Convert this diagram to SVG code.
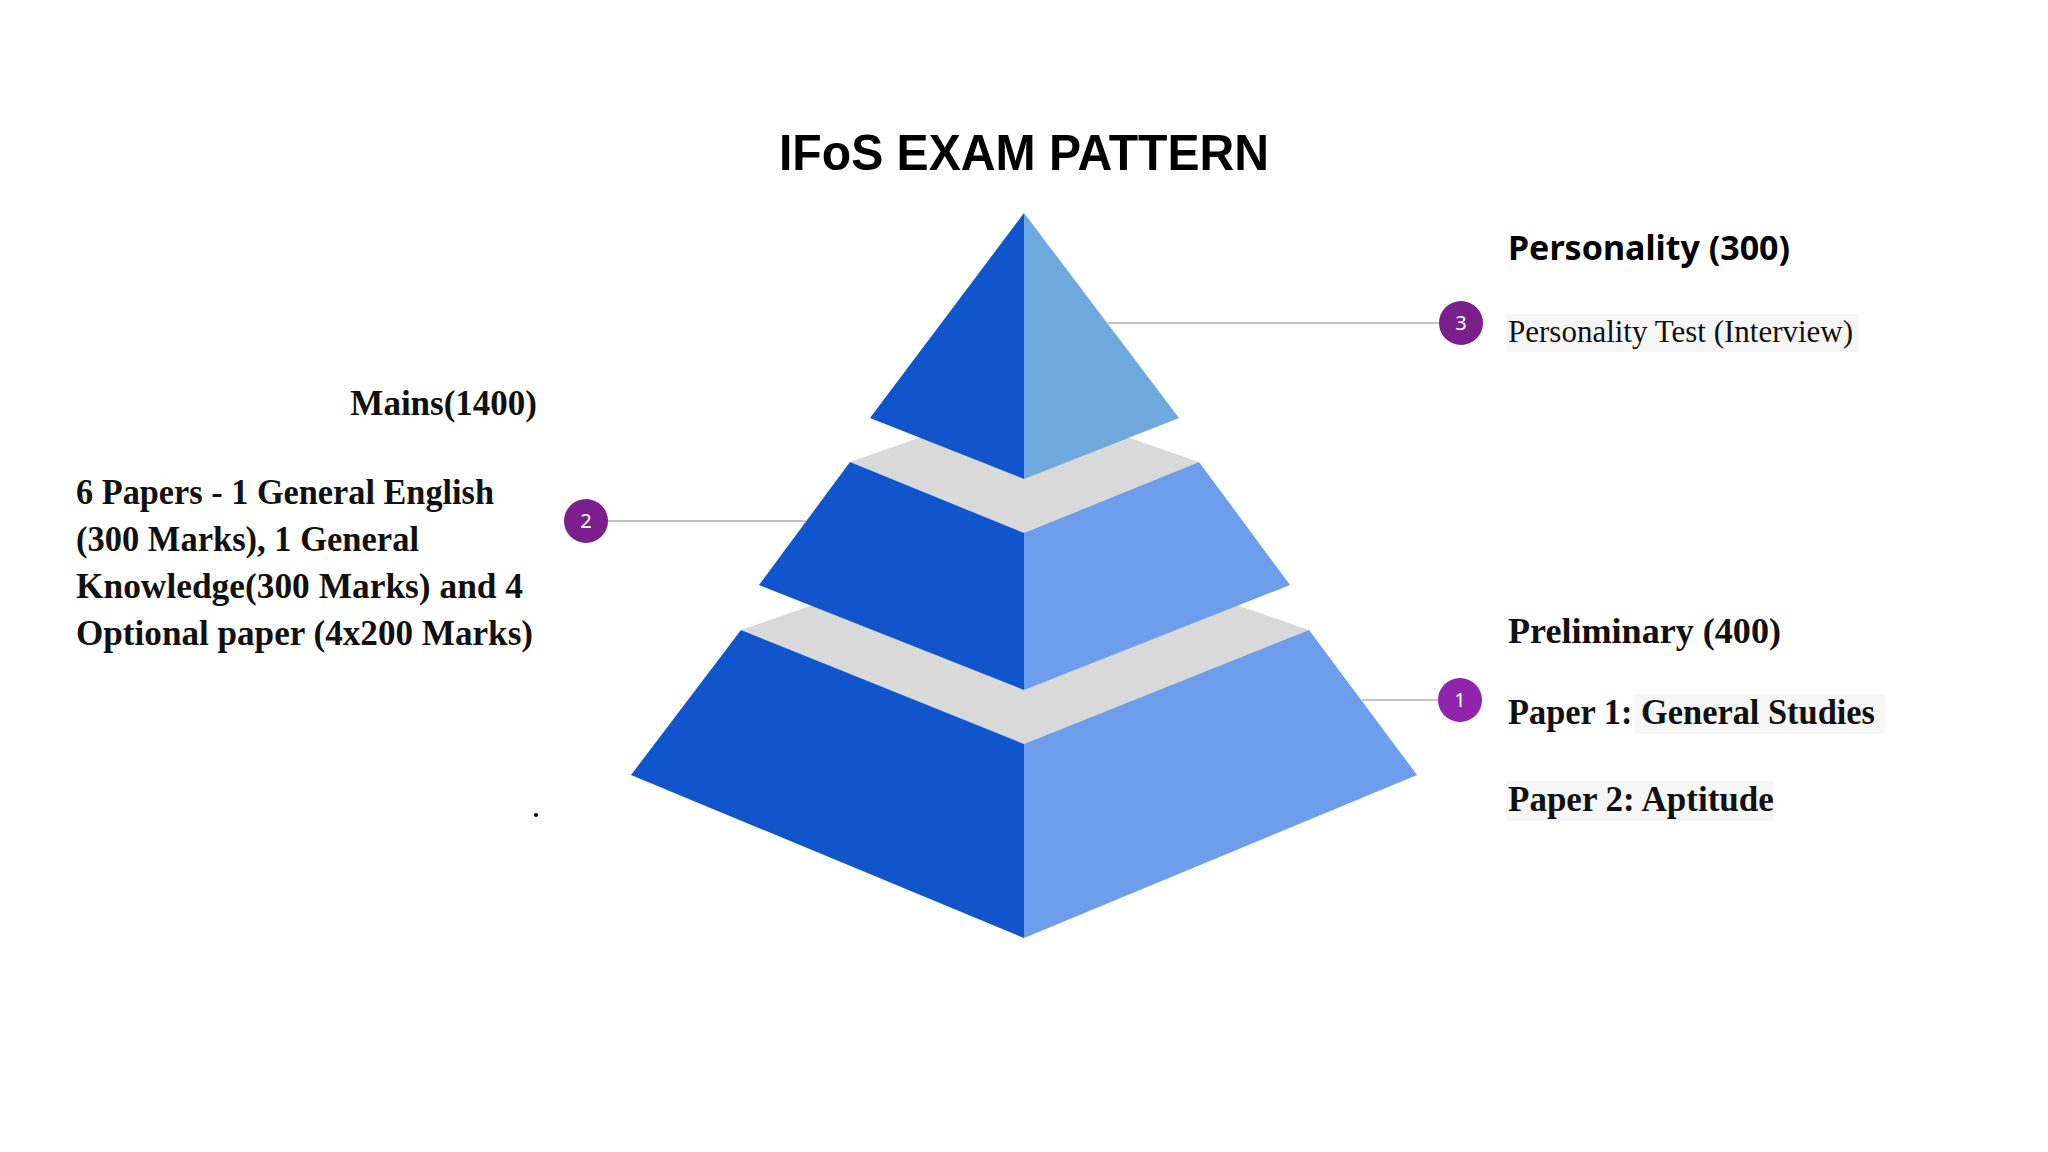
<svg xmlns="http://www.w3.org/2000/svg" width="2048" height="1152" viewBox="0 0 2048 1152">
<style>
.title{font-family:"Liberation Sans",Arial,sans-serif;font-weight:bold;font-size:50px;fill:#000}
.hd{font-family:"Noto Sans","Open Sans",sans-serif;font-weight:bold;font-size:34px;fill:#000}
.sb{font-family:"Liberation Serif","Times New Roman",serif;font-weight:bold;font-size:35px;fill:#111}
.sr{font-family:"Liberation Serif","Times New Roman",serif;font-size:31px;fill:#111}
.num{font-family:"Noto Sans","Open Sans",sans-serif;font-size:20px;fill:#fff;text-anchor:middle}
.dark{fill:#1155cc}
.light{fill:#6d9eeb}
.gray{fill:#d9d9d9}
.hl{fill:#f6f6f6}
.conn{stroke:#c3c3c3;stroke-width:2;fill:none}
</style>
<rect width="2048" height="1152" fill="#fff"/>
<text class="title" x="1024" y="170" text-anchor="middle" textLength="490" lengthAdjust="spacingAndGlyphs">IFoS EXAM PATTERN</text>
<g id="connectors">
<line class="conn" x1="1108" y1="323" x2="1440" y2="323"/>
<line class="conn" x1="608" y1="521" x2="806" y2="521"/>
<line class="conn" x1="1362" y1="700" x2="1440" y2="700"/>
</g>
<g id="tier-bottom">
<polygon class="gray" points="741,630 1024,531 1309,630 1024,744"/>
<polygon class="dark" points="741,630 1024,744 1024,938 631,775"/>
<polygon class="light" points="1024,744 1309,630 1417,775 1024,938"/>
</g>
<g id="tier-middle">
<polygon class="gray" points="850,462 1024,401 1199,462 1024,533"/>
<polygon class="dark" points="850,462 1024,533 1024,690 759,585"/>
<polygon class="light" points="1024,533 1199,462 1290,585 1024,690"/>
</g>
<g id="tier-top">
<polygon class="dark" points="1024,213 1024,479 870,418"/>
<polygon fill="#6fa8dc" points="1024,213 1179,418 1024,479"/>
</g>
<g id="node-3">
<circle cx="1461" cy="323" r="22" fill="#7b1f8c"/>
<text class="num" x="1461" y="330">3</text>
<text class="hd" x="1508" y="260">Personality (300)</text>
<rect class="hl" x="1506" y="314" width="352" height="38"/>
<text class="sr" x="1508" y="342">Personality Test (Interview)</text>
</g>
<g id="node-2">
<circle cx="586" cy="521" r="22" fill="#7b1f8c"/>
<text class="num" x="586" y="528">2</text>
<text class="sb" x="537" y="415" text-anchor="end">Mains(1400)</text>
<text class="sb" x="76" y="504" textLength="418" lengthAdjust="spacingAndGlyphs">6 Papers - 1 General English</text>
<text class="sb" x="76" y="551" textLength="343" lengthAdjust="spacingAndGlyphs">(300 Marks), 1 General</text>
<text class="sb" x="76" y="598" textLength="447" lengthAdjust="spacingAndGlyphs">Knowledge(300 Marks) and 4</text>
<text class="sb" x="76" y="645" textLength="457" lengthAdjust="spacingAndGlyphs">Optional paper (4x200 Marks)</text>
<circle cx="536" cy="815" r="2" fill="#000"/>
</g>
<g id="node-1">
<circle cx="1460" cy="700" r="22" fill="#8e24aa"/>
<text class="num" x="1460" y="707">1</text>
<text class="sb" x="1508" y="643" textLength="273" lengthAdjust="spacingAndGlyphs">Preliminary (400)</text>
<rect class="hl" x="1635" y="694" width="250" height="40"/>
<text class="sb" x="1508" y="724" textLength="367" lengthAdjust="spacingAndGlyphs">Paper 1: General Studies</text>
<rect class="hl" x="1506" y="781" width="268" height="40"/>
<text class="sb" x="1508" y="811">Paper 2: Aptitude</text>
</g>
</svg>
